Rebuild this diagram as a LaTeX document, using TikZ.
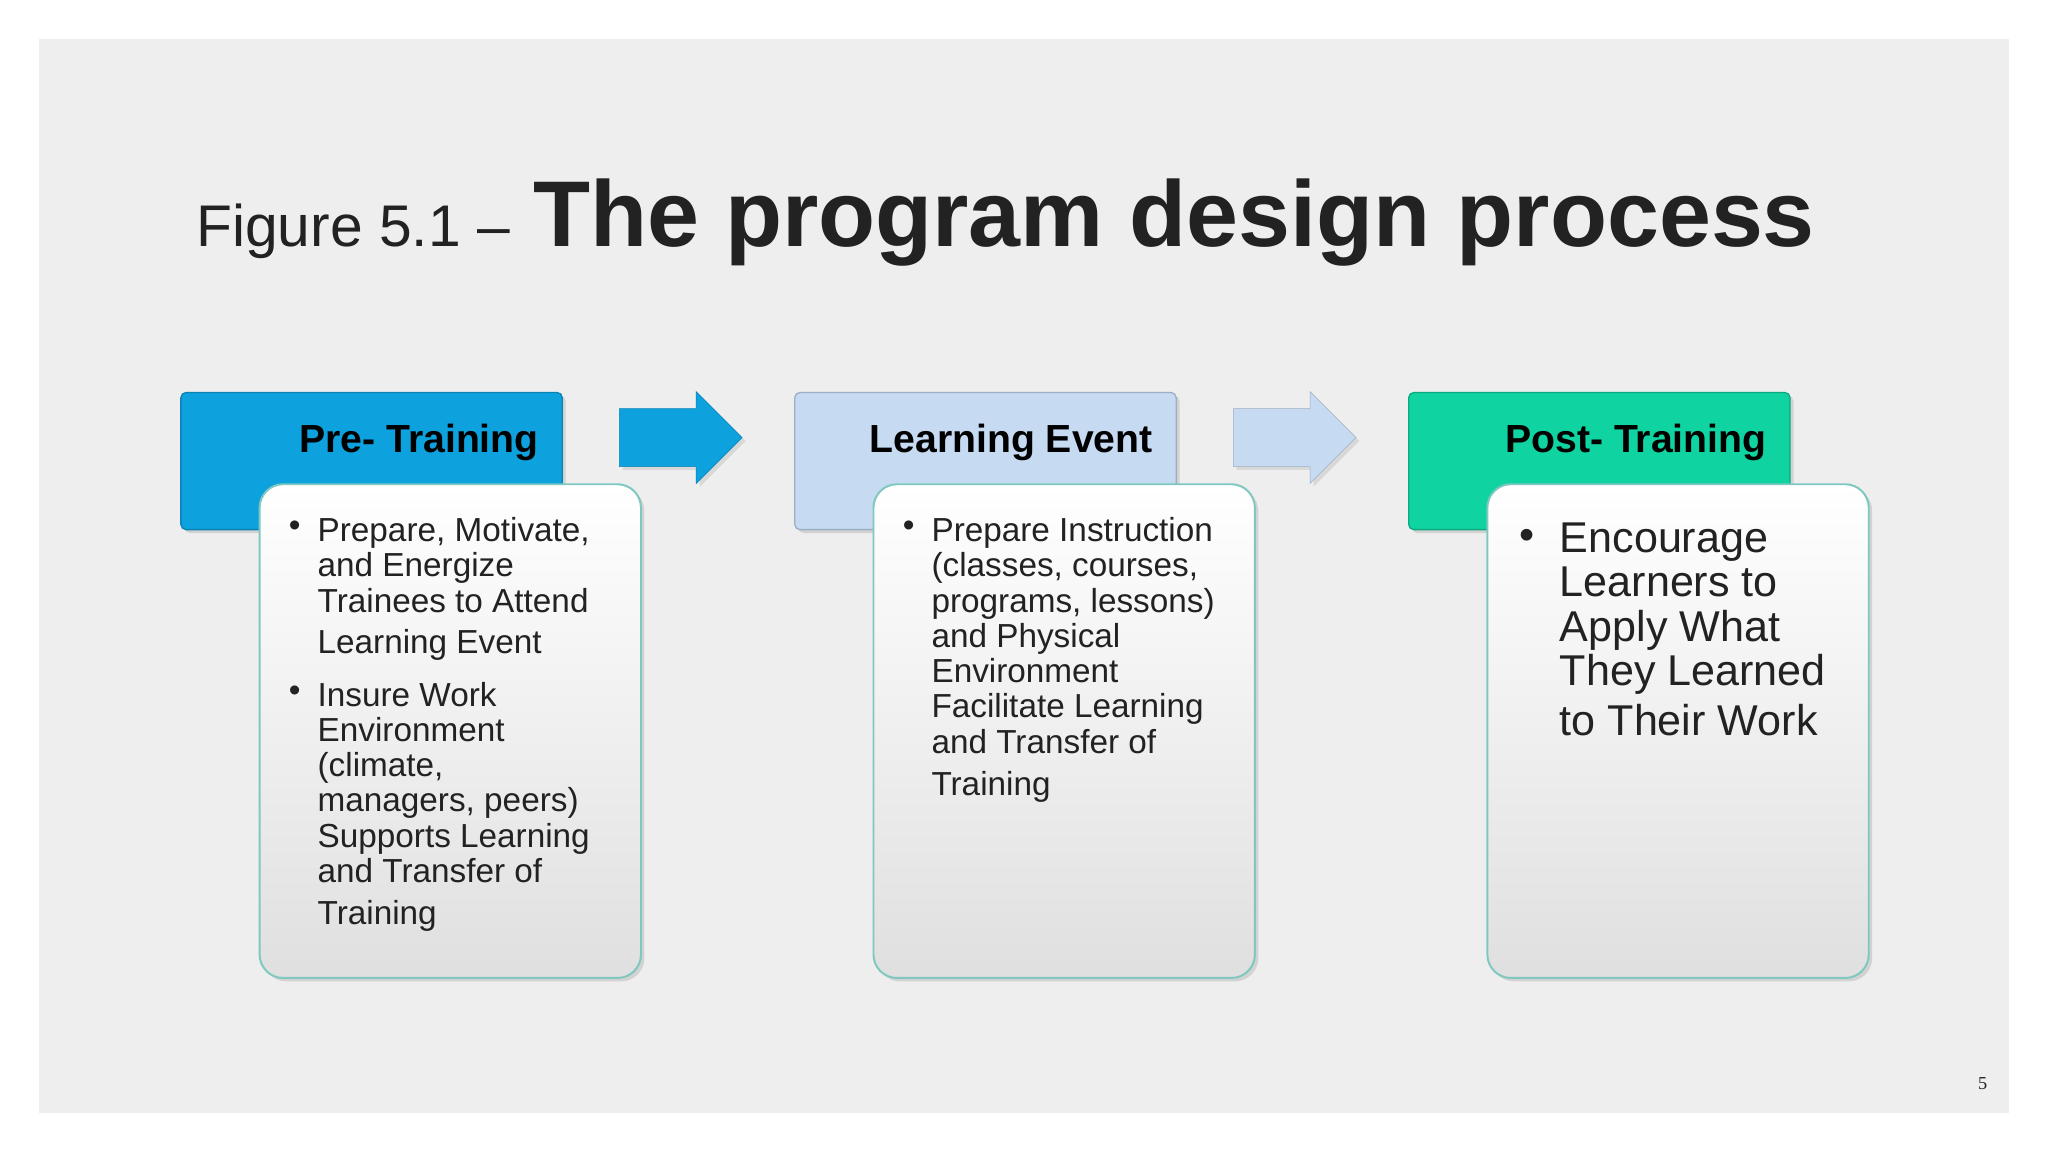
\documentclass[tikz,border=0pt]{standalone}
\usepackage{fontspec}
\setmainfont{Liberation Sans}
\newfontfamily\serifpn{Liberation Serif}
\usetikzlibrary{shapes.arrows,shadows}
\definecolor{bg}{HTML}{EEEEEE}
\definecolor{cblue}{HTML}{0DA2DE}
\definecolor{clight}{HTML}{C6DAF2}
\definecolor{cgreen}{HTML}{0FD3A0}
\definecolor{edgeT}{HTML}{7FC8C0}
\definecolor{txt}{HTML}{222222}
\tikzset{
 hdr/.style={draw=#1!80!black, line width=1pt, fill=#1, rounded corners=4pt, minimum width=292pt, minimum height=105pt, anchor=north west, inner sep=0pt, drop shadow={opacity=0.25}},
 body/.style={draw=edgeT, line width=1.5pt, rounded corners=18pt, top color=white, bottom color=bg!85!black!60!white, minimum width=292pt, minimum height=378pt, anchor=north west, drop shadow={opacity=0.25}},
 htext/.style={font=\fontsize{30}{34}\selectfont\bfseries, text=black, anchor=east},
 itext/.style={font=\fontsize{25.5}{27}\selectfont, text=txt, align=left, anchor=north west, inner sep=0pt},
 btext/.style={font=\fontsize{33}{34}\selectfont, text=txt, align=left, anchor=north west, inner sep=0pt},
 blockarrow/.style={single arrow, fill=#1, draw=#1!80!black, minimum height=94pt, inner xsep=0pt, inner ysep=22pt, single arrow head extend=13pt, single arrow tip angle=90, anchor=west, drop shadow={opacity=0.2}}
}
\begin{document}
\begin{tikzpicture}[x=1pt,y=-1pt]
\useasboundingbox (0,0) rectangle (1568,882);
\fill[white] (0,0) rectangle (1568,882);
\fill[bg] (30,30) rectangle (1538,852);
\node[anchor=base west, inner sep=0pt, text=txt, font=\fontsize{45}{50}\selectfont] (fig) at (150,189) {Figure 5.1 --};
\node[anchor=base west, inner sep=0pt, text=txt, font=\fontsize{71.5}{80}\selectfont\bfseries] (title) at (408,189) {The program design process};
\node[anchor=base, inner sep=0pt, font=\serifpn\fontsize{14}{16}\selectfont, text=txt] (pn) at (1518,834) {5};

% column 1
\node[hdr=cblue] (h1) at (138,300) {};
\node[htext] (h1t) at (416,339) {Pre- Training};
\node[body] (b1) at (198,370) {};
\node[itext] (b1a) at (221,399) {•};
\node[itext] (b1at) at (243,396) {Prepare, Motivate,\\and Energize\\Trainees to Attend\\[5pt]Learning Event};
\node[itext] (b1b) at (221,525) {•};
\node[itext] (b1bt) at (243,522) {Insure Work\\Environment\\(climate,\\managers, peers)\\Supports Learning\\and Transfer of\\[5pt]Training};
\node[blockarrow=cblue] (a1) at (474,335) {};

% column 2
\node[hdr=clight] (h2) at (608,300) {};
\node[htext] (h2t) at (886,339) {Learning Event};
\node[body] (b2) at (668,370) {};
\node[itext] (b2a) at (691,399) {•};
\node[itext] (b2at) at (713,396) {Prepare Instruction\\(classes, courses,\\programs, lessons)\\and Physical\\Environment\\Facilitate Learning\\and Transfer of\\[5pt]Training};
\node[blockarrow=clight] (a2) at (944,335) {};

% column 3
\node[hdr=cgreen] (h3) at (1078,300) {};
\node[htext] (h3t) at (1356,339) {Post- Training};
\node[body] (b3) at (1138,370) {};
\node[btext] (b3a) at (1163,405) {•};
\node[btext] (b3at) at (1194,400) {Encourage\\Learners to\\Apply What\\They Learned\\[4pt]to Their Work};
\end{tikzpicture}
\end{document}
